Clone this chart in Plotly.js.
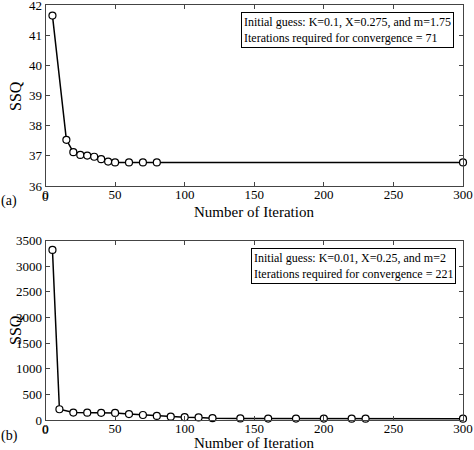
<!DOCTYPE html>
<html>
<head>
<meta charset="utf-8">
<script src="https://cdn.plot.ly/plotly-3.0.1.min.js"></script>
<style>
  body { margin: 0; background: #fff; }
  #chart { width: 474px; height: 450px; }
</style>
</head>
<body>
<div id="chart"></div>
<script>
// panel (a)
var iterA = [5, 15, 20, 25, 30, 35, 40, 45, 50, 60, 70, 80, 300];
var ssqA = [41.65, 37.53, 37.12, 37.03, 37.01, 36.97, 36.89, 36.81, 36.78, 36.78, 36.78, 36.78, 36.78];
var noteA = ['Initial guess: K=0.1, X=0.275, and m=1.75', 'Iterations required for convergence = 71'];

// panel (b)
var iterB = [5, 10, 20, 30, 40, 50, 60, 70, 80, 90, 100, 110, 120, 140, 160, 180, 200, 220, 230, 300];
var ssqB = [3320, 210, 145, 143, 140, 138, 115, 98, 80, 65, 55, 50, 35, 30, 28, 27, 27, 26, 26, 25];
var noteB = ['Initial guess: K=0.01, X=0.25, and m=2', 'Iterations required for convergence = 221'];

var xTicks = [0, 50, 100, 150, 200, 250, 300];
var yTicksA = [36, 37, 38, 39, 40, 41, 42];
var yTicksB = [0, 500, 1000, 1500, 2000, 2500, 3000, 3500];

var serif = 'Liberation Serif, Times New Roman, serif';
var W = 474, H = 450;
// pixel helpers for paper coords
function px(x) { return x / W; }
function py(y) { return (H - y) / H; }

function trace(x, y, xa, ya) {
    return {
        x: x, y: y, xaxis: xa, yaxis: ya,
        type: 'scatter', mode: 'lines+markers',
        line: { color: '#000', width: 1.5 },
        marker: { symbol: 'circle', size: 7, color: '#fff', line: { color: '#000', width: 1.2 } },
        cliponaxis: false, hoverinfo: 'skip'
    };
}

function axis(dom, range, ticks, anchor, standoff) {
    return {
        domain: dom, range: range, anchor: anchor,
        tickmode: 'array', tickvals: ticks,
        ticks: 'inside', ticklen: 4, tickcolor: '#444', tickwidth: 1,
        showline: true, linecolor: '#444', linewidth: 1, mirror: 'ticks',
        showgrid: false, zeroline: false,
        ticklabeloverflow: 'allow', ticklabelstandoff: standoff,
        tickfont: { family: serif, size: 13, color: '#000' }
    };
}

var xDom = [px(45.5), px(463)];
var yDomA = [py(186), py(5)];
var yDomB = [py(420), py(240.7)];

var data = [
    trace(iterA, ssqA, 'x', 'y'),
    trace(iterB, ssqB, 'x2', 'y2')
];

function label(text, x, y, size, angle) {
    return {
        text: text, xref: 'paper', yref: 'paper', x: px(x), y: py(y),
        xanchor: 'center', yanchor: 'middle', showarrow: false,
        textangle: angle || 0,
        font: { family: serif, size: size, color: '#000' }
    };
}

// plotly drops the x label at the corner, so put the first one back on the x scale
function firstTick(xref, y) {
    return {
        text: String(xTicks[0]), xref: xref, yref: 'paper', x: xTicks[0], y: py(y),
        xanchor: 'center', yanchor: 'middle', showarrow: false,
        font: { family: serif, size: 13, color: '#000' }
    };
}

function note(lines, xr, yt) {
    return {
        text: lines.join('<br>'), xref: 'paper', yref: 'paper',
        x: px(xr), y: py(yt), xanchor: 'right', yanchor: 'top',
        align: 'left', showarrow: false,
        bordercolor: '#000', borderwidth: 1, borderpad: 2, bgcolor: '#fff',
        font: { family: serif, size: 12, color: '#000' }
    };
}

var layout = {
    width: W, height: H,
    margin: { l: 0, r: 0, t: 0, b: 0 },
    paper_bgcolor: '#fff', plot_bgcolor: '#fff',
    showlegend: false,
    xaxis: axis(xDom, [0, 300], xTicks, 'y', -4),
    yaxis: axis(yDomA, [36, 42], yTicksA, 'x', 0),
    xaxis2: axis(xDom, [0, 300], xTicks, 'y2', -4),
    yaxis2: axis(yDomB, [0, 3500], yTicksB, 'x2', 0),
    annotations: [
        label('SSQ', 15, 96, 16, -90),
        label('Number of Iteration', 254, 212, 15),
        label('(a)', 9, 201, 14),
        label('SSQ', 15, 330, 16, -90),
        label('Number of Iteration', 254, 443, 15),
        label('(b)', 9, 436, 14),
        firstTick('x', 196.5),
        firstTick('x2', 429),
        note(noteA, 454, 11.7),
        note(noteB, 455.7, 248)
    ]
};

Plotly.newPlot('chart', data, layout, { displayModeBar: false, staticPlot: true });
</script>
</body>
</html>
